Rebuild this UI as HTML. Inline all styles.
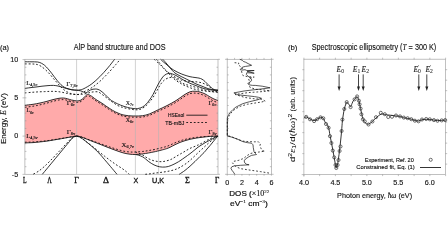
<!DOCTYPE html>
<html><head><meta charset="utf-8"><title>AlP band structure and ellipsometry</title>
<style>
html,body{margin:0;padding:0;background:#fff;}
body{width:448px;height:252px;overflow:hidden;}
svg{display:block;}
text{font-family:"Liberation Sans","DejaVu Sans",sans-serif;fill:#111;stroke:#111;stroke-width:0.2;}
.tl{stroke-width:0.13;}
.tt{stroke-width:0.12;}
.sf{font-family:"Liberation Serif","DejaVu Serif",serif;}
.fr{stroke:#a6a6a6;stroke-width:0.7;fill:none;}
.sy{stroke:#b4b4b4;stroke-width:0.6;fill:none;}
.tk{stroke:#999;stroke-width:0.6;fill:none;}
.sl{stroke:#111;stroke-width:0.85;fill:none;stroke-linejoin:round;}
.dl{stroke:#111;stroke-width:0.9;fill:none;stroke-dasharray:1.8 1.95;}
</style></head><body>
<svg width="448" height="252" viewBox="0 0 448 252">
<rect width="448" height="252" fill="#fff"/>

<text class="tt" x="0" y="49.7" font-size="8.0" textLength="9.1" lengthAdjust="spacingAndGlyphs">(a)</text>
<text class="tt" x="73.8" y="50.1" font-size="8.5" textLength="91.7" lengthAdjust="spacingAndGlyphs">AlP band structure and DOS</text>
<path d="M24.90 105.30 C26.25 105.13 30.48 104.68 33.00 104.30 C35.52 103.92 37.67 103.50 40.00 103.00 C42.33 102.50 44.83 101.87 47.00 101.30 C49.17 100.73 51.00 100.10 53.00 99.60 C55.00 99.10 57.25 98.57 59.00 98.30 C60.75 98.03 62.08 97.92 63.50 98.00 C64.92 98.08 66.17 98.47 67.50 98.80 C68.83 99.13 69.98 99.65 71.50 100.00 C73.02 100.35 75.35 100.78 76.60 100.90 C77.85 101.02 78.27 100.85 79.00 100.70 C79.73 100.55 80.20 100.48 81.00 100.00 C81.80 99.52 83.00 98.53 83.80 97.80 C84.60 97.07 85.18 96.17 85.80 95.60 C86.42 95.03 86.88 94.50 87.50 94.40 C88.12 94.30 88.82 94.70 89.50 95.00 C90.18 95.30 90.80 95.65 91.60 96.20 C92.40 96.75 93.40 97.63 94.30 98.30 C95.20 98.97 96.05 99.58 97.00 100.20 C97.95 100.82 99.00 101.38 100.00 102.00 C101.00 102.62 102.00 103.22 103.00 103.90 C104.00 104.58 104.93 105.37 106.00 106.10 C107.07 106.83 108.32 107.60 109.40 108.30 C110.48 109.00 111.45 109.68 112.50 110.30 C113.55 110.92 114.62 111.47 115.70 112.00 C116.78 112.53 117.93 113.07 119.00 113.50 C120.07 113.93 120.93 114.28 122.10 114.60 C123.27 114.92 124.52 115.18 126.00 115.40 C127.48 115.62 129.43 115.80 131.00 115.90 C132.57 116.00 133.48 116.03 135.40 116.00 C137.32 115.97 140.15 116.05 142.50 115.70 C144.85 115.35 146.82 114.92 149.50 113.90 C152.18 112.88 155.68 110.98 158.60 109.60 C161.52 108.22 164.10 107.10 167.00 105.60 C169.90 104.10 173.17 102.37 176.00 100.60 C178.83 98.83 181.67 96.47 184.00 95.00 C186.33 93.53 188.17 92.43 190.00 91.80 C191.83 91.17 193.33 91.17 195.00 91.20 C196.67 91.23 198.33 91.55 200.00 92.00 C201.67 92.45 203.33 93.08 205.00 93.90 C206.67 94.72 208.50 96.05 210.00 96.90 C211.50 97.75 212.67 98.40 214.00 99.00 C215.33 99.60 217.33 100.25 218.00 100.50 L218.00 136.10 C217.33 136.12 215.33 136.15 214.00 136.20 C212.67 136.25 211.50 136.28 210.00 136.40 C208.50 136.52 206.67 136.72 205.00 136.90 C203.33 137.08 201.67 137.27 200.00 137.50 C198.33 137.73 196.67 138.00 195.00 138.30 C193.33 138.60 191.67 138.90 190.00 139.30 C188.33 139.70 186.67 140.18 185.00 140.70 C183.33 141.22 181.67 141.73 180.00 142.40 C178.33 143.07 176.67 143.88 175.00 144.70 C173.33 145.52 171.42 146.63 170.00 147.30 C168.58 147.97 167.73 148.28 166.50 148.70 C165.27 149.12 164.45 149.32 162.60 149.80 C160.75 150.28 157.78 151.07 155.40 151.60 C153.02 152.13 150.43 152.62 148.30 153.00 C146.17 153.38 144.75 153.65 142.60 153.90 C140.45 154.15 137.50 154.45 135.40 154.50 C133.30 154.55 131.90 154.43 130.00 154.20 C128.10 153.97 126.00 153.60 124.00 153.10 C122.00 152.60 120.00 151.88 118.00 151.20 C116.00 150.52 114.00 149.75 112.00 149.00 C110.00 148.25 108.00 147.48 106.00 146.70 C104.00 145.92 102.17 145.15 100.00 144.30 C97.83 143.45 95.10 142.42 93.00 141.60 C90.90 140.78 89.40 140.18 87.40 139.40 C85.40 138.62 82.80 137.45 81.00 136.90 C79.20 136.35 77.93 136.15 76.60 136.10 C75.27 136.05 74.27 136.40 73.00 136.60 C71.73 136.80 70.50 137.03 69.00 137.30 C67.50 137.57 65.67 137.90 64.00 138.20 C62.33 138.50 60.83 138.78 59.00 139.10 C57.17 139.42 55.00 139.77 53.00 140.10 C51.00 140.43 49.13 140.80 47.00 141.10 C44.87 141.40 42.53 141.65 40.20 141.90 C37.87 142.15 35.55 142.43 33.00 142.60 C30.45 142.77 26.25 142.85 24.90 142.90 Z" fill="#ffaaaa" stroke="none"/>
<line class="sy" x1="76.6" y1="59.3" x2="76.6" y2="174.3"/>
<line class="sy" x1="135.4" y1="59.3" x2="135.4" y2="174.3"/>
<line class="sy" x1="158.6" y1="59.3" x2="158.6" y2="174.3"/>
<rect class="fr" x="24.9" y="59.3" width="193.1" height="115.0"/>
<line class="tk" x1="218.0" y1="59.3" x2="220.0" y2="59.3"/>
<line class="tk" x1="218.0" y1="174.3" x2="220.0" y2="174.3"/>
<line class="tk" x1="22.5" y1="59.60" x2="24.9" y2="59.60"/>
<line class="tk" x1="22.5" y1="97.85" x2="24.9" y2="97.85"/>
<line class="tk" x1="22.5" y1="136.10" x2="24.9" y2="136.10"/>
<line class="tk" x1="22.5" y1="174.35" x2="24.9" y2="174.35"/>
<line class="tk" x1="216.5" y1="166.70" x2="218.0" y2="166.70"/>
<line class="tk" x1="24.9" y1="166.70" x2="26.4" y2="166.70"/>
<line class="tk" x1="216.5" y1="159.05" x2="218.0" y2="159.05"/>
<line class="tk" x1="24.9" y1="159.05" x2="26.4" y2="159.05"/>
<line class="tk" x1="216.5" y1="151.40" x2="218.0" y2="151.40"/>
<line class="tk" x1="24.9" y1="151.40" x2="26.4" y2="151.40"/>
<line class="tk" x1="216.5" y1="143.75" x2="218.0" y2="143.75"/>
<line class="tk" x1="24.9" y1="143.75" x2="26.4" y2="143.75"/>
<line class="tk" x1="216.5" y1="136.10" x2="218.0" y2="136.10"/>
<line class="tk" x1="24.9" y1="136.10" x2="26.4" y2="136.10"/>
<line class="tk" x1="216.5" y1="128.45" x2="218.0" y2="128.45"/>
<line class="tk" x1="24.9" y1="128.45" x2="26.4" y2="128.45"/>
<line class="tk" x1="216.5" y1="120.80" x2="218.0" y2="120.80"/>
<line class="tk" x1="24.9" y1="120.80" x2="26.4" y2="120.80"/>
<line class="tk" x1="216.5" y1="113.15" x2="218.0" y2="113.15"/>
<line class="tk" x1="24.9" y1="113.15" x2="26.4" y2="113.15"/>
<line class="tk" x1="216.5" y1="105.50" x2="218.0" y2="105.50"/>
<line class="tk" x1="24.9" y1="105.50" x2="26.4" y2="105.50"/>
<line class="tk" x1="216.5" y1="97.85" x2="218.0" y2="97.85"/>
<line class="tk" x1="24.9" y1="97.85" x2="26.4" y2="97.85"/>
<line class="tk" x1="216.5" y1="90.20" x2="218.0" y2="90.20"/>
<line class="tk" x1="24.9" y1="90.20" x2="26.4" y2="90.20"/>
<line class="tk" x1="216.5" y1="82.55" x2="218.0" y2="82.55"/>
<line class="tk" x1="24.9" y1="82.55" x2="26.4" y2="82.55"/>
<line class="tk" x1="216.5" y1="74.90" x2="218.0" y2="74.90"/>
<line class="tk" x1="24.9" y1="74.90" x2="26.4" y2="74.90"/>
<line class="tk" x1="216.5" y1="67.25" x2="218.0" y2="67.25"/>
<line class="tk" x1="24.9" y1="67.25" x2="26.4" y2="67.25"/>
<path class="sl" d="M24.90 61.80 C25.92 61.80 28.87 61.77 31.00 61.80 C33.13 61.83 35.95 61.75 37.70 62.00 C39.45 62.25 40.33 62.73 41.50 63.30 C42.67 63.87 43.62 64.48 44.70 65.40 C45.78 66.32 46.83 67.48 48.00 68.80 C49.17 70.12 50.20 71.38 51.70 73.30 C53.20 75.22 55.25 78.22 57.00 80.30 C58.75 82.38 60.58 84.47 62.20 85.80 C63.82 87.13 65.07 87.63 66.70 88.30 C68.33 88.97 70.35 89.48 72.00 89.80 C73.65 90.12 75.27 90.18 76.60 90.20 C77.93 90.22 78.77 90.17 80.00 89.90 C81.23 89.63 82.02 89.62 84.00 88.60 C85.98 87.58 89.27 85.78 91.90 83.80 C94.53 81.82 97.15 79.35 99.80 76.70 C102.45 74.05 105.33 70.80 107.80 67.90 C110.27 65.00 113.47 60.73 114.60 59.30"/>
<path class="sl" d="M24.90 88.40 C25.75 88.28 28.15 87.93 30.00 87.70 C31.85 87.47 34.00 87.25 36.00 87.00 C38.00 86.75 40.00 86.43 42.00 86.20 C44.00 85.97 46.08 85.73 48.00 85.60 C49.92 85.47 51.83 85.33 53.50 85.40 C55.17 85.47 56.55 85.70 58.00 86.00 C59.45 86.30 60.75 86.77 62.20 87.20 C63.65 87.63 65.15 88.18 66.70 88.60 C68.25 89.02 69.85 89.43 71.50 89.70 C73.15 89.97 75.10 90.02 76.60 90.20 C78.10 90.38 79.35 90.50 80.50 90.80 C81.65 91.10 82.58 91.65 83.50 92.00 C84.42 92.35 85.17 93.03 86.00 92.90 C86.83 92.77 87.75 91.68 88.50 91.20 C89.25 90.72 89.75 90.33 90.50 90.00 C91.25 89.67 92.17 89.37 93.00 89.20 C93.83 89.03 94.67 88.97 95.50 89.00 C96.33 89.03 97.08 89.07 98.00 89.40 C98.92 89.73 99.87 90.18 101.00 91.00 C102.13 91.82 103.53 93.12 104.80 94.30 C106.07 95.48 107.50 97.07 108.60 98.10 C109.70 99.13 110.42 99.80 111.40 100.50 C112.38 101.20 113.52 101.77 114.50 102.30 C115.48 102.83 116.30 103.23 117.30 103.70 C118.30 104.17 119.38 104.65 120.50 105.10 C121.62 105.55 122.83 106.02 124.00 106.40 C125.17 106.78 126.38 107.12 127.50 107.40 C128.62 107.68 129.38 107.88 130.70 108.10 C132.02 108.32 134.02 108.67 135.40 108.70 C136.78 108.73 137.82 108.58 139.00 108.30 C140.18 108.02 141.33 107.67 142.50 107.00 C143.67 106.33 144.83 105.47 146.00 104.30 C147.17 103.13 148.33 101.63 149.50 100.00 C150.67 98.37 151.75 96.75 153.00 94.50 C154.25 92.25 155.67 89.00 157.00 86.50 C158.33 84.00 159.75 81.38 161.00 79.50 C162.25 77.62 163.18 76.23 164.50 75.20 C165.82 74.17 167.57 73.50 168.90 73.30 C170.23 73.10 171.32 73.63 172.50 74.00 C173.68 74.37 174.75 74.85 176.00 75.50 C177.25 76.15 178.67 77.10 180.00 77.90 C181.33 78.70 182.33 79.40 184.00 80.30 C185.67 81.20 188.00 82.42 190.00 83.30 C192.00 84.18 193.67 84.72 196.00 85.60 C198.33 86.48 201.33 87.85 204.00 88.60 C206.67 89.35 209.67 89.82 212.00 90.10 C214.33 90.38 217.00 90.27 218.00 90.30"/>
<path class="sl" d="M160.60 59.30 C161.08 59.75 162.43 61.07 163.50 62.00 C164.57 62.93 165.75 63.85 167.00 64.90 C168.25 65.95 169.50 67.22 171.00 68.30 C172.50 69.38 174.50 70.57 176.00 71.40 C177.50 72.23 178.67 72.72 180.00 73.30 C181.33 73.88 182.33 74.33 184.00 74.90 C185.67 75.47 188.17 76.27 190.00 76.70 C191.83 77.13 193.50 77.27 195.00 77.50 C196.50 77.73 197.83 77.82 199.00 78.10 C200.17 78.38 201.00 78.63 202.00 79.20 C203.00 79.77 204.00 80.62 205.00 81.50 C206.00 82.38 207.00 83.52 208.00 84.50 C209.00 85.48 210.00 86.57 211.00 87.40 C212.00 88.23 212.83 89.02 214.00 89.50 C215.17 89.98 217.33 90.17 218.00 90.30"/>
<path class="sl" d="M162.80 59.30 C163.25 59.80 164.63 61.30 165.50 62.30 C166.37 63.30 167.08 64.18 168.00 65.30 C168.92 66.42 170.00 67.85 171.00 69.00 C172.00 70.15 173.17 71.42 174.00 72.20 C174.83 72.98 175.00 73.08 176.00 73.70 C177.00 74.32 178.67 75.20 180.00 75.90 C181.33 76.60 182.33 77.07 184.00 77.90 C185.67 78.73 188.00 79.90 190.00 80.90 C192.00 81.90 194.00 83.02 196.00 83.90 C198.00 84.78 200.00 85.42 202.00 86.20 C204.00 86.98 206.00 87.97 208.00 88.60 C210.00 89.23 212.33 89.72 214.00 90.00 C215.67 90.28 217.33 90.25 218.00 90.30"/>
<path class="sl" d="M76.60 136.10 C76.25 136.20 75.22 136.35 74.50 136.70 C73.78 137.05 73.13 137.40 72.30 138.20 C71.47 139.00 74.50 135.48 69.50 141.50 C64.50 147.52 46.83 168.83 42.30 174.30"/>
<path class="sl" d="M76.60 136.10 C77.08 136.25 78.52 136.55 79.50 137.00 C80.48 137.45 81.18 137.87 82.50 138.80 C83.82 139.73 85.65 141.17 87.40 142.60 C89.15 144.03 91.08 145.67 93.00 147.40 C94.92 149.13 96.98 150.98 98.90 153.00 C100.82 155.02 102.60 157.28 104.50 159.50 C106.40 161.72 108.22 163.83 110.30 166.30 C112.38 168.77 115.88 172.97 117.00 174.30"/>
<path class="sl" d="M135.40 154.50 C135.92 154.62 137.30 154.82 138.50 155.20 C139.70 155.58 141.43 156.18 142.60 156.80 C143.77 157.42 144.55 158.15 145.50 158.90 C146.45 159.65 147.35 160.57 148.30 161.30 C149.25 162.03 150.25 162.70 151.20 163.30 C152.15 163.90 153.03 164.43 154.00 164.90 C154.97 165.37 156.05 165.78 157.00 166.10 C157.95 166.42 158.78 166.63 159.70 166.80 C160.62 166.97 161.55 167.07 162.50 167.10 C163.45 167.13 164.43 167.10 165.40 167.00 C166.37 166.90 167.35 166.75 168.30 166.50 C169.25 166.25 170.15 165.88 171.10 165.50 C172.05 165.12 173.02 164.68 174.00 164.20 C174.98 163.72 176.00 163.17 177.00 162.60 C178.00 162.03 178.67 161.68 180.00 160.80 C181.33 159.92 183.33 158.48 185.00 157.30 C186.67 156.12 188.50 154.83 190.00 153.70 C191.50 152.57 192.67 151.58 194.00 150.50 C195.33 149.42 196.67 148.18 198.00 147.20 C199.33 146.22 200.67 145.43 202.00 144.60 C203.33 143.77 204.67 142.95 206.00 142.20 C207.33 141.45 208.67 140.80 210.00 140.10 C211.33 139.40 212.67 138.67 214.00 138.00 C215.33 137.33 217.33 136.42 218.00 136.10"/>
<path class="sl" d="M179.20 174.30 C179.67 174.00 181.03 173.15 182.00 172.50 C182.97 171.85 183.67 171.45 185.00 170.40 C186.33 169.35 188.33 167.68 190.00 166.20 C191.67 164.72 193.33 163.12 195.00 161.50 C196.67 159.88 198.50 157.98 200.00 156.50 C201.50 155.02 202.83 153.85 204.00 152.60 C205.17 151.35 206.00 150.17 207.00 149.00 C208.00 147.83 209.00 146.78 210.00 145.60 C211.00 144.42 212.08 143.03 213.00 141.90 C213.92 140.77 214.67 139.77 215.50 138.80 C216.33 137.83 217.58 136.55 218.00 136.10"/>
<path class="dl" d="M24.90 63.90 C26.25 63.92 30.90 63.88 33.00 64.00 C35.10 64.12 36.13 64.20 37.50 64.60 C38.87 65.00 39.87 65.53 41.20 66.40 C42.53 67.27 44.03 68.47 45.50 69.80 C46.97 71.13 48.67 72.93 50.00 74.40 C51.33 75.87 52.33 77.23 53.50 78.60 C54.67 79.97 55.83 81.28 57.00 82.60 C58.17 83.92 59.33 85.30 60.50 86.50 C61.67 87.70 62.67 88.78 64.00 89.80 C65.33 90.82 67.08 91.90 68.50 92.60 C69.92 93.30 71.15 93.68 72.50 94.00 C73.85 94.32 75.35 94.48 76.60 94.50 C77.85 94.52 78.77 94.55 80.00 94.10 C81.23 93.65 82.02 92.88 84.00 91.80 C85.98 90.72 89.27 89.33 91.90 87.60 C94.53 85.87 97.15 83.75 99.80 81.40 C102.45 79.05 105.15 76.28 107.80 73.50 C110.45 70.72 113.63 67.07 115.70 64.70 C117.77 62.33 119.45 60.20 120.20 59.30"/>
<path class="dl" d="M24.90 92.90 C26.08 92.80 29.82 92.47 32.00 92.30 C34.18 92.13 35.88 92.02 38.00 91.90 C40.12 91.78 42.70 91.68 44.70 91.60 C46.70 91.52 48.28 91.43 50.00 91.40 C51.72 91.37 53.33 91.32 55.00 91.40 C56.67 91.48 58.33 91.65 60.00 91.90 C61.67 92.15 63.33 92.55 65.00 92.90 C66.67 93.25 68.07 93.73 70.00 94.00 C71.93 94.27 74.68 94.43 76.60 94.50 C78.52 94.57 79.93 94.55 81.50 94.40 C83.07 94.25 84.58 93.92 86.00 93.60 C87.42 93.28 88.78 92.78 90.00 92.50 C91.22 92.22 91.95 92.00 93.30 91.90 C94.65 91.80 96.67 91.50 98.10 91.90 C99.53 92.30 100.63 93.43 101.90 94.30 C103.17 95.17 104.43 96.15 105.70 97.10 C106.97 98.05 108.28 99.10 109.50 100.00 C110.72 100.90 111.70 101.62 113.00 102.50 C114.30 103.38 116.05 104.60 117.30 105.30 C118.55 106.00 119.38 106.28 120.50 106.70 C121.62 107.12 122.30 107.38 124.00 107.80 C125.70 108.22 128.80 108.87 130.70 109.20 C132.60 109.53 133.85 109.77 135.40 109.80 C136.95 109.83 138.38 109.95 140.00 109.40 C141.62 108.85 143.60 107.65 145.10 106.50 C146.60 105.35 147.68 104.00 149.00 102.50 C150.32 101.00 151.67 99.50 153.00 97.50 C154.33 95.50 155.67 92.78 157.00 90.50 C158.33 88.22 159.67 85.62 161.00 83.80 C162.33 81.98 163.58 80.63 165.00 79.60 C166.42 78.57 168.08 77.93 169.50 77.60 C170.92 77.27 172.20 77.23 173.50 77.60 C174.80 77.97 175.55 78.75 177.30 79.80 C179.05 80.85 181.88 82.93 184.00 83.90 C186.12 84.87 187.67 84.92 190.00 85.60 C192.33 86.28 195.33 87.20 198.00 88.00 C200.67 88.80 203.33 89.80 206.00 90.40 C208.67 91.00 212.00 91.33 214.00 91.60 C216.00 91.87 217.33 91.93 218.00 92.00"/>
<path class="dl" d="M154.20 59.30 C154.67 59.72 156.03 60.90 157.00 61.80 C157.97 62.70 158.92 63.63 160.00 64.70 C161.08 65.77 162.33 67.07 163.50 68.20 C164.67 69.33 165.75 70.43 167.00 71.50 C168.25 72.57 169.50 73.58 171.00 74.60 C172.50 75.62 174.50 76.77 176.00 77.60 C177.50 78.43 178.83 79.10 180.00 79.60 C181.17 80.10 181.33 80.30 183.00 80.60 C184.67 80.90 187.83 81.20 190.00 81.40 C192.17 81.60 194.00 81.55 196.00 81.80 C198.00 82.05 200.17 82.33 202.00 82.90 C203.83 83.47 205.50 84.35 207.00 85.20 C208.50 86.05 209.75 87.10 211.00 88.00 C212.25 88.90 213.33 89.88 214.50 90.60 C215.67 91.32 217.42 92.02 218.00 92.30"/>
<path class="dl" d="M156.40 59.30 C157.00 60.02 158.73 62.08 160.00 63.60 C161.27 65.12 162.67 66.87 164.00 68.40 C165.33 69.93 166.67 71.37 168.00 72.80 C169.33 74.23 170.67 75.72 172.00 77.00 C173.33 78.28 174.67 79.50 176.00 80.50 C177.33 81.50 178.67 82.22 180.00 83.00 C181.33 83.78 182.00 84.30 184.00 85.20 C186.00 86.10 189.33 87.55 192.00 88.40 C194.67 89.25 197.00 89.77 200.00 90.30 C203.00 90.83 207.00 91.27 210.00 91.60 C213.00 91.93 216.67 92.18 218.00 92.30"/>
<path class="dl" d="M24.90 107.30 C26.25 107.12 30.48 106.63 33.00 106.22 C35.52 105.81 37.67 105.38 40.00 104.85 C42.33 104.33 44.83 103.67 47.00 103.09 C49.17 102.50 51.00 101.85 53.00 101.33 C55.00 100.81 57.25 100.25 59.00 99.97 C60.75 99.69 62.08 99.56 63.50 99.63 C64.92 99.70 66.17 100.07 67.50 100.39 C68.83 100.71 69.98 101.21 71.50 101.55 C73.02 101.88 75.35 102.29 76.60 102.40 C77.85 102.51 78.27 102.34 79.00 102.19 C79.73 102.03 80.20 101.96 81.00 101.48 C81.80 100.99 83.00 100.00 83.80 99.26 C84.60 98.53 85.18 97.62 85.80 97.05 C86.42 96.48 86.88 95.95 87.50 95.84 C88.12 95.74 88.82 96.14 89.50 96.43 C90.18 96.73 90.80 97.08 91.60 97.62 C92.40 98.17 93.40 99.05 94.30 99.71 C95.20 100.37 96.05 100.98 97.00 101.60 C97.95 102.21 99.00 102.77 100.00 103.38 C101.00 103.99 102.00 104.59 103.00 105.27 C104.00 105.94 104.93 106.72 106.00 107.45 C107.07 108.18 108.32 108.94 109.40 109.63 C110.48 110.33 111.45 111.01 112.50 111.62 C113.55 112.23 114.62 112.77 115.70 113.30 C116.78 113.83 117.93 114.36 119.00 114.78 C120.07 115.21 120.93 115.56 122.10 115.87 C123.27 116.18 124.52 116.44 126.00 116.65 C127.48 116.86 129.43 117.03 131.00 117.12 C132.57 117.21 133.48 117.22 135.40 117.20 C137.32 117.18 140.15 117.31 142.50 116.99 C144.85 116.66 146.82 116.25 149.50 115.27 C152.18 114.29 155.68 112.43 158.60 111.08 C161.52 109.73 164.10 108.65 167.00 107.18 C169.90 105.72 173.17 104.02 176.00 102.29 C178.83 100.56 181.67 98.23 184.00 96.79 C186.33 95.35 188.17 94.27 190.00 93.66 C191.83 93.05 193.33 93.07 195.00 93.12 C196.67 93.18 198.33 93.51 200.00 93.98 C201.67 94.45 203.33 95.11 205.00 95.94 C206.67 96.78 208.50 98.13 210.00 99.00 C211.50 99.87 212.67 100.54 214.00 101.15 C215.33 101.77 217.33 102.44 218.00 102.70"/>
<path class="dl" d="M24.90 142.20 C26.25 142.17 30.45 142.14 33.00 142.01 C35.55 141.88 37.87 141.63 40.20 141.41 C42.53 141.19 44.87 140.97 47.00 140.70 C49.13 140.43 51.00 140.09 53.00 139.78 C55.00 139.47 57.17 139.15 59.00 138.86 C60.83 138.57 62.33 138.31 64.00 138.03 C65.67 137.75 67.50 137.44 69.00 137.20 C70.50 136.95 71.73 136.73 73.00 136.55 C74.27 136.37 75.27 136.06 76.60 136.10 C77.93 136.14 79.20 136.31 81.00 136.81 C82.80 137.32 85.40 138.41 87.40 139.12 C89.40 139.84 90.90 140.39 93.00 141.12 C95.10 141.86 97.83 142.79 100.00 143.55 C102.17 144.31 104.00 144.99 106.00 145.68 C108.00 146.38 110.00 147.05 112.00 147.71 C114.00 148.36 116.00 149.03 118.00 149.62 C120.00 150.20 122.00 150.81 124.00 151.21 C126.00 151.61 128.10 151.86 130.00 151.99 C131.90 152.13 133.30 152.09 135.40 152.00 C137.50 151.91 140.45 151.69 142.60 151.46 C144.75 151.23 146.17 150.98 148.30 150.61 C150.43 150.25 153.02 149.79 155.40 149.27 C157.78 148.76 160.75 148.00 162.60 147.54 C164.45 147.07 165.27 146.88 166.50 146.47 C167.73 146.06 168.58 145.71 170.00 145.10 C171.42 144.49 173.33 143.54 175.00 142.83 C176.67 142.13 178.33 141.42 180.00 140.85 C181.67 140.29 183.33 139.87 185.00 139.45 C186.67 139.02 188.33 138.63 190.00 138.32 C191.67 138.01 193.33 137.79 195.00 137.57 C196.67 137.35 198.33 137.16 200.00 136.99 C201.67 136.83 203.33 136.71 205.00 136.59 C206.67 136.47 208.50 136.32 210.00 136.25 C211.50 136.18 212.67 136.17 214.00 136.15 C215.33 136.12 217.33 136.11 218.00 136.10"/>
<path class="dl" d="M76.60 136.10 C76.08 136.25 74.40 136.60 73.50 137.00 C72.60 137.40 72.45 137.33 71.20 138.50 C69.95 139.67 68.20 141.65 66.00 144.00 C63.80 146.35 60.67 149.77 58.00 152.60 C55.33 155.43 52.33 158.63 50.00 161.00 C47.67 163.37 45.92 165.10 44.00 166.80 C42.08 168.50 40.33 169.95 38.50 171.20 C36.67 172.45 33.92 173.78 33.00 174.30"/>
<path class="dl" d="M76.60 136.10 C77.17 136.32 78.85 136.82 80.00 137.40 C81.15 137.98 82.27 138.73 83.50 139.60 C84.73 140.47 85.82 141.40 87.40 142.60 C88.98 143.80 91.08 145.30 93.00 146.80 C94.92 148.30 96.97 150.03 98.90 151.60 C100.83 153.17 102.70 154.72 104.60 156.20 C106.50 157.68 108.40 159.10 110.30 160.50 C112.20 161.90 114.10 163.32 116.00 164.60 C117.90 165.88 120.12 167.13 121.70 168.20 C123.28 169.27 124.23 169.98 125.50 171.00 C126.77 172.02 128.67 173.75 129.30 174.30"/>
<path class="dl" d="M135.40 152.00 C135.92 152.18 137.30 152.60 138.50 153.10 C139.70 153.60 141.43 154.37 142.60 155.00 C143.77 155.63 144.55 156.30 145.50 156.90 C146.45 157.50 147.22 158.05 148.30 158.60 C149.38 159.15 150.82 159.78 152.00 160.20 C153.18 160.62 154.23 160.87 155.40 161.10 C156.57 161.33 157.80 161.52 159.00 161.60 C160.20 161.68 161.43 161.70 162.60 161.60 C163.77 161.50 164.82 161.28 166.00 161.00 C167.18 160.72 168.70 160.25 169.70 159.90 C170.70 159.55 170.95 159.47 172.00 158.90 C173.05 158.33 174.67 157.28 176.00 156.50 C177.33 155.72 178.50 155.07 180.00 154.20 C181.50 153.33 183.33 152.27 185.00 151.30 C186.67 150.33 188.17 149.30 190.00 148.40 C191.83 147.50 194.33 146.62 196.00 145.90 C197.67 145.18 198.50 144.85 200.00 144.10 C201.50 143.35 203.33 142.28 205.00 141.40 C206.67 140.52 208.50 139.50 210.00 138.80 C211.50 138.10 212.67 137.65 214.00 137.20 C215.33 136.75 217.33 136.28 218.00 136.10"/>
<path class="dl" d="M145.30 174.30 C146.08 174.22 148.38 174.00 150.00 173.80 C151.62 173.60 153.33 173.32 155.00 173.10 C156.67 172.88 158.33 172.72 160.00 172.50 C161.67 172.28 163.33 172.07 165.00 171.80 C166.67 171.53 168.50 171.22 170.00 170.90 C171.50 170.58 172.83 170.25 174.00 169.90 C175.17 169.55 176.00 169.23 177.00 168.80 C178.00 168.37 178.67 168.05 180.00 167.30 C181.33 166.55 183.33 165.45 185.00 164.30 C186.67 163.15 188.33 161.83 190.00 160.40 C191.67 158.97 193.33 157.28 195.00 155.70 C196.67 154.12 198.50 152.30 200.00 150.90 C201.50 149.50 202.67 148.52 204.00 147.30 C205.33 146.08 206.67 144.77 208.00 143.60 C209.33 142.43 210.83 141.23 212.00 140.30 C213.17 139.37 214.00 138.70 215.00 138.00 C216.00 137.30 217.50 136.42 218.00 136.10"/>
<path class="sl" d="M24.90 105.30 C26.25 105.13 30.48 104.68 33.00 104.30 C35.52 103.92 37.67 103.50 40.00 103.00 C42.33 102.50 44.83 101.87 47.00 101.30 C49.17 100.73 51.00 100.10 53.00 99.60 C55.00 99.10 57.25 98.57 59.00 98.30 C60.75 98.03 62.08 97.92 63.50 98.00 C64.92 98.08 66.17 98.47 67.50 98.80 C68.83 99.13 69.98 99.65 71.50 100.00 C73.02 100.35 75.35 100.78 76.60 100.90 C77.85 101.02 78.27 100.85 79.00 100.70 C79.73 100.55 80.20 100.48 81.00 100.00 C81.80 99.52 83.00 98.53 83.80 97.80 C84.60 97.07 85.18 96.17 85.80 95.60 C86.42 95.03 86.88 94.50 87.50 94.40 C88.12 94.30 88.82 94.70 89.50 95.00 C90.18 95.30 90.80 95.65 91.60 96.20 C92.40 96.75 93.40 97.63 94.30 98.30 C95.20 98.97 96.05 99.58 97.00 100.20 C97.95 100.82 99.00 101.38 100.00 102.00 C101.00 102.62 102.00 103.22 103.00 103.90 C104.00 104.58 104.93 105.37 106.00 106.10 C107.07 106.83 108.32 107.60 109.40 108.30 C110.48 109.00 111.45 109.68 112.50 110.30 C113.55 110.92 114.62 111.47 115.70 112.00 C116.78 112.53 117.93 113.07 119.00 113.50 C120.07 113.93 120.93 114.28 122.10 114.60 C123.27 114.92 124.52 115.18 126.00 115.40 C127.48 115.62 129.43 115.80 131.00 115.90 C132.57 116.00 133.48 116.03 135.40 116.00 C137.32 115.97 140.15 116.05 142.50 115.70 C144.85 115.35 146.82 114.92 149.50 113.90 C152.18 112.88 155.68 110.98 158.60 109.60 C161.52 108.22 164.10 107.10 167.00 105.60 C169.90 104.10 173.17 102.37 176.00 100.60 C178.83 98.83 181.67 96.47 184.00 95.00 C186.33 93.53 188.17 92.43 190.00 91.80 C191.83 91.17 193.33 91.17 195.00 91.20 C196.67 91.23 198.33 91.55 200.00 92.00 C201.67 92.45 203.33 93.08 205.00 93.90 C206.67 94.72 208.50 96.05 210.00 96.90 C211.50 97.75 212.67 98.40 214.00 99.00 C215.33 99.60 217.33 100.25 218.00 100.50"/>
<path class="sl" d="M24.90 142.90 C26.25 142.85 30.45 142.77 33.00 142.60 C35.55 142.43 37.87 142.15 40.20 141.90 C42.53 141.65 44.87 141.40 47.00 141.10 C49.13 140.80 51.00 140.43 53.00 140.10 C55.00 139.77 57.17 139.42 59.00 139.10 C60.83 138.78 62.33 138.50 64.00 138.20 C65.67 137.90 67.50 137.57 69.00 137.30 C70.50 137.03 71.73 136.80 73.00 136.60 C74.27 136.40 75.27 136.05 76.60 136.10 C77.93 136.15 79.20 136.35 81.00 136.90 C82.80 137.45 85.40 138.62 87.40 139.40 C89.40 140.18 90.90 140.78 93.00 141.60 C95.10 142.42 97.83 143.45 100.00 144.30 C102.17 145.15 104.00 145.92 106.00 146.70 C108.00 147.48 110.00 148.25 112.00 149.00 C114.00 149.75 116.00 150.52 118.00 151.20 C120.00 151.88 122.00 152.60 124.00 153.10 C126.00 153.60 128.10 153.97 130.00 154.20 C131.90 154.43 133.30 154.55 135.40 154.50 C137.50 154.45 140.45 154.15 142.60 153.90 C144.75 153.65 146.17 153.38 148.30 153.00 C150.43 152.62 153.02 152.13 155.40 151.60 C157.78 151.07 160.75 150.28 162.60 149.80 C164.45 149.32 165.27 149.12 166.50 148.70 C167.73 148.28 168.58 147.97 170.00 147.30 C171.42 146.63 173.33 145.52 175.00 144.70 C176.67 143.88 178.33 143.07 180.00 142.40 C181.67 141.73 183.33 141.22 185.00 140.70 C186.67 140.18 188.33 139.70 190.00 139.30 C191.67 138.90 193.33 138.60 195.00 138.30 C196.67 138.00 198.33 137.73 200.00 137.50 C201.67 137.27 203.33 137.08 205.00 136.90 C206.67 136.72 208.50 136.52 210.00 136.40 C211.50 136.28 212.67 136.25 214.00 136.20 C215.33 136.15 217.33 136.12 218.00 136.10"/>
<text class="tl" x="18.2" y="61.90" font-size="7.2" text-anchor="end">10</text>
<text class="tl" x="18.2" y="100.15" font-size="7.2" text-anchor="end">5</text>
<text class="tl" x="18.2" y="138.40" font-size="7.2" text-anchor="end">0</text>
<text class="tl" x="18.2" y="176.65" font-size="7.2" text-anchor="end">-5</text>
<text class="tl" transform="translate(6.0,144.0) rotate(-90)" font-size="7.5" textLength="51" lengthAdjust="spacingAndGlyphs">Energy, <tspan class="sf" font-style="italic">E</tspan> (eV)</text>
<text x="23.1" y="182.9" font-size="7.8" textLength="3.6" lengthAdjust="spacingAndGlyphs" style="stroke-width:0.3" class="sf">L</text>
<text x="47.2" y="182.9" font-size="7.8" textLength="4.5" lengthAdjust="spacingAndGlyphs" style="stroke-width:0.3" class="sf">Λ</text>
<text x="74.3" y="182.9" font-size="7.8" textLength="4.6" lengthAdjust="spacingAndGlyphs" style="stroke-width:0.3" class="sf">Γ</text>
<text x="103.1" y="182.9" font-size="7.8" textLength="6.0" lengthAdjust="spacingAndGlyphs" style="stroke-width:0.3" class="sf">Δ</text>
<text x="133.6" y="182.9" font-size="7.2" textLength="4.7" lengthAdjust="spacingAndGlyphs" style="stroke-width:0.3">X</text>
<text x="152.0" y="182.9" font-size="7.2" textLength="12.1" lengthAdjust="spacingAndGlyphs" style="stroke-width:0.3">U,K</text>
<text x="185.1" y="182.9" font-size="7.8" textLength="4.8" lengthAdjust="spacingAndGlyphs" style="stroke-width:0.3" class="sf">Σ</text>
<text x="215.1" y="182.9" font-size="7.8" textLength="4.3" lengthAdjust="spacingAndGlyphs" style="stroke-width:0.3" class="sf">Γ</text>
<text class="sf" x="26.2" y="84.7" font-size="6.6" textLength="11.1" lengthAdjust="spacingAndGlyphs" style="stroke:#111;stroke-width:0.15">L<tspan font-size="4.2" dy="1.1">4,5c</tspan></text>
<text class="sf" x="66.3" y="86.2" font-size="6.6" textLength="11.4" lengthAdjust="spacingAndGlyphs" style="stroke:#111;stroke-width:0.15">Γ<tspan font-size="4.2" dy="1.1">7,8c</tspan></text>
<text class="sf" x="26.5" y="112.4" font-size="6.6" textLength="7.3" lengthAdjust="spacingAndGlyphs" style="stroke:#111;stroke-width:0.15">L<tspan font-size="4.2" dy="1.1">6c</tspan></text>
<text class="sf" x="66.8" y="104.9" font-size="6.6" textLength="7.9" lengthAdjust="spacingAndGlyphs" style="stroke:#111;stroke-width:0.15">Γ<tspan font-size="4.2" dy="1.1">6c</tspan></text>
<text class="sf" x="26.2" y="137.8" font-size="6.6" textLength="11.5" lengthAdjust="spacingAndGlyphs" style="stroke:#111;stroke-width:0.15">L<tspan font-size="4.2" dy="1.1">4,5v</tspan></text>
<text class="sf" x="66.7" y="133.8" font-size="6.6" textLength="8.5" lengthAdjust="spacingAndGlyphs" style="stroke:#111;stroke-width:0.15">Γ<tspan font-size="4.2" dy="1.1">8v</tspan></text>
<text class="sf" x="125.7" y="104.9" font-size="6.6" textLength="7.8" lengthAdjust="spacingAndGlyphs" style="stroke:#111;stroke-width:0.15">X<tspan font-size="4.2" dy="1.1">7c</tspan></text>
<text class="sf" x="125.7" y="122.2" font-size="6.6" textLength="7.8" lengthAdjust="spacingAndGlyphs" style="stroke:#111;stroke-width:0.15">X<tspan font-size="4.2" dy="1.1">6c</tspan></text>
<text class="sf" x="121.6" y="147.2" font-size="6.6" textLength="12.4" lengthAdjust="spacingAndGlyphs" style="stroke:#111;stroke-width:0.15">X<tspan font-size="4.2" dy="1.1">6,7v</tspan></text>
<text class="sf" x="208.6" y="104.9" font-size="6.6" textLength="7.6" lengthAdjust="spacingAndGlyphs" style="stroke:#111;stroke-width:0.15">Γ<tspan font-size="4.2" dy="1.1">6c</tspan></text>
<text class="sf" x="208.6" y="133.8" font-size="6.6" textLength="8.0" lengthAdjust="spacingAndGlyphs" style="stroke:#111;stroke-width:0.15">Γ<tspan font-size="4.2" dy="1.1">8v</tspan></text>
<text class="tl" x="168.1" y="116.9" font-size="5.5" textLength="16.2" lengthAdjust="spacingAndGlyphs">HSEsol</text>
<text class="tl" x="165.3" y="124.5" font-size="5.5" textLength="19.0" lengthAdjust="spacingAndGlyphs">TB-mBJ</text>
<line class="sl" x1="186.3" y1="115.2" x2="207.5" y2="115.2"/>
<line class="dl" x1="186.3" y1="122.5" x2="207.5" y2="122.5"/>
<rect class="fr" x="227.2" y="59.3" width="44.2" height="115.0"/>
<line class="tk" x1="225.0" y1="59.3" x2="227.2" y2="59.3"/>
<line class="tk" x1="225.0" y1="174.3" x2="227.2" y2="174.3"/>
<line class="tk" x1="271.4" y1="59.3" x2="273.6" y2="59.3"/>
<line class="tk" x1="271.4" y1="174.3" x2="273.6" y2="174.3"/>
<line class="tk" x1="227.20" y1="57.9" x2="227.20" y2="59.6"/>
<line class="tk" x1="227.20" y1="175.7" x2="227.20" y2="174.0"/>
<line class="tk" x1="234.57" y1="57.9" x2="234.57" y2="59.6"/>
<line class="tk" x1="234.57" y1="175.7" x2="234.57" y2="174.0"/>
<line class="tk" x1="241.93" y1="57.9" x2="241.93" y2="59.6"/>
<line class="tk" x1="241.93" y1="175.7" x2="241.93" y2="174.0"/>
<line class="tk" x1="249.30" y1="57.9" x2="249.30" y2="59.6"/>
<line class="tk" x1="249.30" y1="175.7" x2="249.30" y2="174.0"/>
<line class="tk" x1="256.67" y1="57.9" x2="256.67" y2="59.6"/>
<line class="tk" x1="256.67" y1="175.7" x2="256.67" y2="174.0"/>
<line class="tk" x1="264.03" y1="57.9" x2="264.03" y2="59.6"/>
<line class="tk" x1="264.03" y1="175.7" x2="264.03" y2="174.0"/>
<line class="tk" x1="271.40" y1="57.9" x2="271.40" y2="59.6"/>
<line class="tk" x1="271.40" y1="175.7" x2="271.40" y2="174.0"/>
<line class="tk" x1="227.2" y1="166.70" x2="228.7" y2="166.70"/>
<line class="tk" x1="269.9" y1="166.70" x2="271.4" y2="166.70"/>
<line class="tk" x1="227.2" y1="159.05" x2="228.7" y2="159.05"/>
<line class="tk" x1="269.9" y1="159.05" x2="271.4" y2="159.05"/>
<line class="tk" x1="227.2" y1="151.40" x2="228.7" y2="151.40"/>
<line class="tk" x1="269.9" y1="151.40" x2="271.4" y2="151.40"/>
<line class="tk" x1="227.2" y1="143.75" x2="228.7" y2="143.75"/>
<line class="tk" x1="269.9" y1="143.75" x2="271.4" y2="143.75"/>
<line class="tk" x1="227.2" y1="136.10" x2="228.7" y2="136.10"/>
<line class="tk" x1="269.9" y1="136.10" x2="271.4" y2="136.10"/>
<line class="tk" x1="227.2" y1="128.45" x2="228.7" y2="128.45"/>
<line class="tk" x1="269.9" y1="128.45" x2="271.4" y2="128.45"/>
<line class="tk" x1="227.2" y1="120.80" x2="228.7" y2="120.80"/>
<line class="tk" x1="269.9" y1="120.80" x2="271.4" y2="120.80"/>
<line class="tk" x1="227.2" y1="113.15" x2="228.7" y2="113.15"/>
<line class="tk" x1="269.9" y1="113.15" x2="271.4" y2="113.15"/>
<line class="tk" x1="227.2" y1="105.50" x2="228.7" y2="105.50"/>
<line class="tk" x1="269.9" y1="105.50" x2="271.4" y2="105.50"/>
<line class="tk" x1="227.2" y1="97.85" x2="228.7" y2="97.85"/>
<line class="tk" x1="269.9" y1="97.85" x2="271.4" y2="97.85"/>
<line class="tk" x1="227.2" y1="90.20" x2="228.7" y2="90.20"/>
<line class="tk" x1="269.9" y1="90.20" x2="271.4" y2="90.20"/>
<line class="tk" x1="227.2" y1="82.55" x2="228.7" y2="82.55"/>
<line class="tk" x1="269.9" y1="82.55" x2="271.4" y2="82.55"/>
<line class="tk" x1="227.2" y1="74.90" x2="228.7" y2="74.90"/>
<line class="tk" x1="269.9" y1="74.90" x2="271.4" y2="74.90"/>
<line class="tk" x1="227.2" y1="67.25" x2="228.7" y2="67.25"/>
<line class="tk" x1="269.9" y1="67.25" x2="271.4" y2="67.25"/>
<path class="sl" style="stroke-width:0.7" d="M239.80 59.30 L242.00 60.10 L243.30 61.40 L245.50 62.20 L248.10 63.60 L251.60 65.30 L249.00 65.90 L245.50 66.40 L242.90 67.00 L241.10 68.40 L240.20 69.70 L242.00 70.10 L245.00 69.70 L246.80 70.50 L254.20 70.50 L247.20 71.40 L254.20 73.20 L246.80 72.70 L246.40 74.50 L247.70 75.80 L249.10 77.10 L250.90 78.40 L251.70 80.10 L250.40 81.90 L248.70 82.70 L247.80 83.60 L249.50 84.90 L252.60 85.40 L255.20 85.40 L262.20 86.20 L270.10 87.80 L262.00 88.90 L252.00 90.00 L244.00 91.00 L233.90 92.90 L237.80 94.80 L247.60 95.80 L254.50 96.60 L258.50 97.30 L261.40 98.30 L257.50 99.80 L249.60 101.70 L242.70 103.70 L235.90 107.10 L233.00 109.50 L230.50 112.00 L228.80 114.50 L227.60 116.60 L227.30 118.50 L227.30 136.00 L232.00 137.20 L237.80 139.30 L242.70 141.60 L247.60 142.70 L251.50 143.20 L253.00 144.80 L253.30 147.70 L254.00 151.60 L255.50 153.50 L256.50 154.50 L251.50 155.40 L248.60 156.90 L245.60 158.90 L244.20 160.80 L244.70 162.80 L246.60 164.30 L249.10 164.80 L240.70 165.30 L234.80 165.80 L231.90 166.70 L230.90 168.20 L231.90 170.20 L233.40 172.10 L234.80 174.30"/>
<path class="dl" style="stroke-width:0.8" d="M234.60 62.70 L238.90 63.10 L238.00 64.90 L239.40 65.70 L242.40 67.90 L241.50 70.50 L242.00 73.60 L243.30 75.80 L248.10 76.70 L254.20 77.10 L248.50 78.50 L249.50 81.50 L249.00 84.50 L250.00 87.50 L256.10 89.30 L262.20 89.80 L270.10 90.80 L260.00 91.80 L248.00 92.60 L235.20 94.50 L245.00 97.50 L254.50 98.80 L262.00 99.20 L265.30 101.20 L260.40 102.20 L247.60 104.20 L240.80 106.10 L235.50 108.80 L232.00 111.80 L229.30 115.50 L227.60 119.50 L227.30 122.00 L227.30 135.50 L231.90 136.90 L237.80 139.30 L242.70 141.10 L248.00 141.60 L254.50 141.80 L258.40 141.80 L260.40 143.80 L259.90 145.80 L260.90 148.20 L262.30 150.70 L264.80 151.20 L258.40 152.10 L254.50 152.50 L250.60 153.50 L246.60 155.90 L243.70 158.40 L238.80 160.30 L233.90 161.30 L232.40 162.80 L235.80 166.70 L240.70 168.70 L250.60 170.20 L260.40 171.60 L269.20 173.10"/>
<text class="tl" x="227.20" y="185.4" font-size="7.2" text-anchor="middle">0</text>
<text class="tl" x="241.93" y="185.4" font-size="7.2" text-anchor="middle">2</text>
<text class="tl" x="256.67" y="185.4" font-size="7.2" text-anchor="middle">4</text>
<text class="tl" x="271.40" y="185.4" font-size="7.2" text-anchor="middle">6</text>
<text x="229.3" y="195.7" font-size="7.4" textLength="40.0" lengthAdjust="spacingAndGlyphs">DOS (<tspan class="sf" style="stroke-width:0.1">×10</tspan><tspan class="sf" font-size="4.6" dy="-3.0" style="stroke-width:0.08">22</tspan></text>
<text x="230.0" y="206.1" font-size="7.4" textLength="37.9" lengthAdjust="spacingAndGlyphs">eV<tspan class="sf" font-size="4.6" dy="-3.0" style="stroke-width:0.08">−1</tspan><tspan dy="3.0"> cm</tspan><tspan class="sf" font-size="4.6" dy="-3.0" style="stroke-width:0.08">−3</tspan><tspan dy="3.0">)</tspan></text>
<text class="tt" x="287.9" y="49.9" font-size="8.0" textLength="9.5" lengthAdjust="spacingAndGlyphs">(b)</text>
<text class="tt" x="311.7" y="50.4" font-size="8.5" textLength="124.6" lengthAdjust="spacingAndGlyphs">Spectroscopic ellipsometry (<tspan class="sf" font-style="italic">T</tspan> = 300 K)</text>
<rect class="fr" x="303.9" y="59.2" width="141.7" height="115.4"/>
<line class="tk" x1="303.90" y1="57.7" x2="303.90" y2="59.5"/>
<line class="tk" x1="303.90" y1="176.1" x2="303.90" y2="174.3"/>
<line class="tk" x1="319.64" y1="57.7" x2="319.64" y2="59.5"/>
<line class="tk" x1="319.64" y1="176.1" x2="319.64" y2="174.3"/>
<line class="tk" x1="335.39" y1="57.7" x2="335.39" y2="59.5"/>
<line class="tk" x1="335.39" y1="176.1" x2="335.39" y2="174.3"/>
<line class="tk" x1="351.13" y1="57.7" x2="351.13" y2="59.5"/>
<line class="tk" x1="351.13" y1="176.1" x2="351.13" y2="174.3"/>
<line class="tk" x1="366.88" y1="57.7" x2="366.88" y2="59.5"/>
<line class="tk" x1="366.88" y1="176.1" x2="366.88" y2="174.3"/>
<line class="tk" x1="382.62" y1="57.7" x2="382.62" y2="59.5"/>
<line class="tk" x1="382.62" y1="176.1" x2="382.62" y2="174.3"/>
<line class="tk" x1="398.37" y1="57.7" x2="398.37" y2="59.5"/>
<line class="tk" x1="398.37" y1="176.1" x2="398.37" y2="174.3"/>
<line class="tk" x1="414.11" y1="57.7" x2="414.11" y2="59.5"/>
<line class="tk" x1="414.11" y1="176.1" x2="414.11" y2="174.3"/>
<line class="tk" x1="429.86" y1="57.7" x2="429.86" y2="59.5"/>
<line class="tk" x1="429.86" y1="176.1" x2="429.86" y2="174.3"/>
<line class="tk" x1="445.60" y1="57.7" x2="445.60" y2="59.5"/>
<line class="tk" x1="445.60" y1="176.1" x2="445.60" y2="174.3"/>
<line class="tk" x1="301.7" y1="174.6" x2="303.9" y2="174.6"/>
<line class="tk" x1="303.9" y1="174.6" x2="303.9" y2="176.6"/>
<line class="tk" x1="302.3" y1="69.69" x2="304.2" y2="69.69"/>
<line class="tk" x1="445.3" y1="69.69" x2="447.2" y2="69.69"/>
<line class="tk" x1="302.3" y1="80.18" x2="304.2" y2="80.18"/>
<line class="tk" x1="445.3" y1="80.18" x2="447.2" y2="80.18"/>
<line class="tk" x1="302.3" y1="90.67" x2="304.2" y2="90.67"/>
<line class="tk" x1="445.3" y1="90.67" x2="447.2" y2="90.67"/>
<line class="tk" x1="302.3" y1="101.16" x2="304.2" y2="101.16"/>
<line class="tk" x1="445.3" y1="101.16" x2="447.2" y2="101.16"/>
<line class="tk" x1="302.3" y1="111.65" x2="304.2" y2="111.65"/>
<line class="tk" x1="445.3" y1="111.65" x2="447.2" y2="111.65"/>
<line class="tk" x1="302.3" y1="122.15" x2="304.2" y2="122.15"/>
<line class="tk" x1="445.3" y1="122.15" x2="447.2" y2="122.15"/>
<line class="tk" x1="302.3" y1="132.64" x2="304.2" y2="132.64"/>
<line class="tk" x1="445.3" y1="132.64" x2="447.2" y2="132.64"/>
<line class="tk" x1="302.3" y1="143.13" x2="304.2" y2="143.13"/>
<line class="tk" x1="445.3" y1="143.13" x2="447.2" y2="143.13"/>
<line class="tk" x1="302.3" y1="153.62" x2="304.2" y2="153.62"/>
<line class="tk" x1="445.3" y1="153.62" x2="447.2" y2="153.62"/>
<line class="tk" x1="302.3" y1="164.11" x2="304.2" y2="164.11"/>
<line class="tk" x1="445.3" y1="164.11" x2="447.2" y2="164.11"/>
<text class="tl" x="303.90" y="185.3" font-size="7.2" text-anchor="middle">4.0</text>
<text class="tl" x="335.39" y="185.3" font-size="7.2" text-anchor="middle">4.5</text>
<text class="tl" x="366.88" y="185.3" font-size="7.2" text-anchor="middle">5.0</text>
<text class="tl" x="398.37" y="185.3" font-size="7.2" text-anchor="middle">5.5</text>
<text class="tl" x="429.86" y="185.3" font-size="7.2" text-anchor="middle">6.0</text>
<text class="tl" x="337.1" y="198.1" font-size="8.0" textLength="75.0" lengthAdjust="spacingAndGlyphs">Photon energy, <tspan class="sf" font-style="italic">ħω</tspan> (eV)</text>
<text transform="translate(294.6,162.3) rotate(-90)" font-size="7.6" textLength="48.8" lengthAdjust="spacingAndGlyphs" style="stroke-width:0.05">d<tspan font-size="5.2" dy="-2.7">2</tspan><tspan class="sf" font-style="italic" dy="2.7">ε</tspan><tspan font-size="5.2" dy="1.4">1</tspan><tspan dy="-1.4">/d(</tspan><tspan class="sf" font-style="italic">ħω</tspan>)<tspan font-size="5.2" dy="-2.7">2</tspan></text>
<text transform="translate(294.6,111.5) rotate(-90)" font-size="6.9" textLength="34.3" lengthAdjust="spacingAndGlyphs" style="stroke-width:0.05">(arb. units)</text>
<path class="sl" style="stroke-width:0.85" d="M303.90 118.30 C304.28 118.07 305.18 116.78 306.20 116.90 C307.22 117.02 308.68 118.38 310.00 119.00 C311.32 119.62 312.92 120.57 314.10 120.60 C315.28 120.63 316.03 119.75 317.10 119.20 C318.17 118.65 319.47 117.45 320.50 117.30 C321.53 117.15 322.52 117.47 323.30 118.30 C324.08 119.13 324.35 120.85 325.20 122.30 C326.05 123.75 327.60 124.80 328.40 127.00 C329.20 129.20 329.47 132.75 330.00 135.50 C330.53 138.25 331.07 140.75 331.60 143.50 C332.13 146.25 332.67 149.08 333.20 152.00 C333.73 154.92 334.33 158.37 334.80 161.00 C335.27 163.63 335.57 167.13 336.00 167.80 C336.43 168.47 337.00 166.47 337.40 165.00 C337.80 163.53 338.03 161.50 338.40 159.00 C338.77 156.50 339.23 153.00 339.60 150.00 C339.97 147.00 340.27 144.17 340.60 141.00 C340.93 137.83 341.30 134.33 341.60 131.00 C341.90 127.67 342.10 123.83 342.40 121.00 C342.70 118.17 343.08 116.00 343.40 114.00 C343.72 112.00 343.95 110.50 344.30 109.00 C344.65 107.50 345.10 106.15 345.50 105.00 C345.90 103.85 346.18 102.27 346.70 102.10 C347.22 101.93 347.95 103.25 348.60 104.00 C349.25 104.75 350.03 106.67 350.60 106.60 C351.17 106.53 351.58 104.52 352.00 103.60 C352.42 102.68 352.67 101.82 353.10 101.10 C353.53 100.38 353.93 100.05 354.60 99.30 C355.27 98.55 356.38 96.37 357.10 96.60 C357.82 96.83 358.48 99.42 358.90 100.70 C359.32 101.98 359.32 102.98 359.60 104.30 C359.88 105.62 360.27 107.05 360.60 108.60 C360.93 110.15 361.22 111.93 361.60 113.60 C361.98 115.27 362.47 117.27 362.90 118.60 C363.33 119.93 363.68 120.80 364.20 121.60 C364.72 122.40 365.32 122.97 366.00 123.40 C366.68 123.83 367.32 124.45 368.30 124.20 C369.28 123.95 370.70 122.88 371.90 121.90 C373.10 120.92 374.40 119.32 375.50 118.30 C376.60 117.28 377.50 116.52 378.50 115.80 C379.50 115.08 380.45 114.23 381.50 114.00 C382.55 113.77 383.62 114.23 384.80 114.40 C385.98 114.57 386.78 114.75 388.60 115.00 C390.42 115.25 393.72 115.65 395.70 115.90 C397.68 116.15 399.18 116.20 400.50 116.50 C401.82 116.80 402.50 117.40 403.60 117.70 C404.70 118.00 405.82 118.05 407.10 118.30 C408.38 118.55 410.00 118.83 411.30 119.20 C412.60 119.57 413.70 120.20 414.90 120.50 C416.10 120.80 417.32 121.13 418.50 121.00 C419.68 120.87 420.72 119.98 422.00 119.70 C423.28 119.42 424.90 119.33 426.20 119.30 C427.50 119.27 428.52 119.37 429.80 119.50 C431.08 119.63 432.62 119.92 433.90 120.10 C435.18 120.28 436.20 120.55 437.50 120.60 C438.80 120.65 440.35 120.48 441.70 120.40 C443.05 120.32 444.95 120.15 445.60 120.10"/>
<circle cx="306.20" cy="116.90" r="1.55" fill="none" stroke="#222" stroke-width="0.65"/>
<circle cx="310.00" cy="119.30" r="1.55" fill="none" stroke="#222" stroke-width="0.65"/>
<circle cx="314.10" cy="121.10" r="1.55" fill="none" stroke="#222" stroke-width="0.65"/>
<circle cx="317.10" cy="119.20" r="1.55" fill="none" stroke="#222" stroke-width="0.65"/>
<circle cx="320.50" cy="117.30" r="1.55" fill="none" stroke="#222" stroke-width="0.65"/>
<circle cx="323.30" cy="118.30" r="1.55" fill="none" stroke="#222" stroke-width="0.65"/>
<circle cx="326.00" cy="124.00" r="1.55" fill="none" stroke="#222" stroke-width="0.65"/>
<circle cx="328.60" cy="127.80" r="1.55" fill="none" stroke="#222" stroke-width="0.65"/>
<circle cx="330.00" cy="136.20" r="1.55" fill="none" stroke="#222" stroke-width="0.65"/>
<circle cx="331.40" cy="143.00" r="1.55" fill="none" stroke="#222" stroke-width="0.65"/>
<circle cx="332.80" cy="150.60" r="1.55" fill="none" stroke="#222" stroke-width="0.65"/>
<circle cx="334.20" cy="157.40" r="1.55" fill="none" stroke="#222" stroke-width="0.65"/>
<circle cx="335.50" cy="165.00" r="1.55" fill="none" stroke="#222" stroke-width="0.65"/>
<circle cx="336.30" cy="168.00" r="1.55" fill="none" stroke="#222" stroke-width="0.65"/>
<circle cx="337.60" cy="165.00" r="1.55" fill="none" stroke="#222" stroke-width="0.65"/>
<circle cx="338.50" cy="160.00" r="1.55" fill="none" stroke="#222" stroke-width="0.65"/>
<circle cx="339.60" cy="151.00" r="1.55" fill="none" stroke="#222" stroke-width="0.65"/>
<circle cx="340.50" cy="146.50" r="1.55" fill="none" stroke="#222" stroke-width="0.65"/>
<circle cx="341.60" cy="131.00" r="1.55" fill="none" stroke="#222" stroke-width="0.65"/>
<circle cx="342.40" cy="119.60" r="1.55" fill="none" stroke="#222" stroke-width="0.65"/>
<circle cx="344.30" cy="109.00" r="1.55" fill="none" stroke="#222" stroke-width="0.65"/>
<circle cx="346.70" cy="102.10" r="1.55" fill="none" stroke="#222" stroke-width="0.65"/>
<circle cx="350.60" cy="107.10" r="1.55" fill="none" stroke="#222" stroke-width="0.65"/>
<circle cx="354.60" cy="99.30" r="1.55" fill="none" stroke="#222" stroke-width="0.65"/>
<circle cx="357.10" cy="96.40" r="1.55" fill="none" stroke="#222" stroke-width="0.65"/>
<circle cx="358.90" cy="100.70" r="1.55" fill="none" stroke="#222" stroke-width="0.65"/>
<circle cx="359.60" cy="104.30" r="1.55" fill="none" stroke="#222" stroke-width="0.65"/>
<circle cx="360.60" cy="108.60" r="1.55" fill="none" stroke="#222" stroke-width="0.65"/>
<circle cx="361.40" cy="114.30" r="1.55" fill="none" stroke="#222" stroke-width="0.65"/>
<circle cx="362.90" cy="119.30" r="1.55" fill="none" stroke="#222" stroke-width="0.65"/>
<circle cx="364.80" cy="121.40" r="1.55" fill="none" stroke="#222" stroke-width="0.65"/>
<circle cx="368.50" cy="124.50" r="1.55" fill="none" stroke="#222" stroke-width="0.65"/>
<circle cx="372.40" cy="121.50" r="1.55" fill="none" stroke="#222" stroke-width="0.65"/>
<circle cx="376.00" cy="117.20" r="1.55" fill="none" stroke="#222" stroke-width="0.65"/>
<circle cx="380.80" cy="112.80" r="1.55" fill="none" stroke="#222" stroke-width="0.65"/>
<circle cx="384.80" cy="114.20" r="1.55" fill="none" stroke="#222" stroke-width="0.65"/>
<circle cx="388.20" cy="117.00" r="1.55" fill="none" stroke="#222" stroke-width="0.65"/>
<circle cx="392.00" cy="116.80" r="1.55" fill="none" stroke="#222" stroke-width="0.65"/>
<circle cx="396.00" cy="115.50" r="1.55" fill="none" stroke="#222" stroke-width="0.65"/>
<circle cx="400.00" cy="116.40" r="1.55" fill="none" stroke="#222" stroke-width="0.65"/>
<circle cx="403.80" cy="117.60" r="1.55" fill="none" stroke="#222" stroke-width="0.65"/>
<circle cx="407.60" cy="118.20" r="1.55" fill="none" stroke="#222" stroke-width="0.65"/>
<circle cx="411.30" cy="119.20" r="1.55" fill="none" stroke="#222" stroke-width="0.65"/>
<circle cx="414.90" cy="120.70" r="1.55" fill="none" stroke="#222" stroke-width="0.65"/>
<circle cx="418.50" cy="121.30" r="1.55" fill="none" stroke="#222" stroke-width="0.65"/>
<circle cx="422.00" cy="119.50" r="1.55" fill="none" stroke="#222" stroke-width="0.65"/>
<circle cx="426.20" cy="119.00" r="1.55" fill="none" stroke="#222" stroke-width="0.65"/>
<circle cx="429.80" cy="119.30" r="1.55" fill="none" stroke="#222" stroke-width="0.65"/>
<circle cx="433.90" cy="120.10" r="1.55" fill="none" stroke="#222" stroke-width="0.65"/>
<circle cx="437.50" cy="120.80" r="1.55" fill="none" stroke="#222" stroke-width="0.65"/>
<circle cx="441.70" cy="120.40" r="1.55" fill="none" stroke="#222" stroke-width="0.65"/>
<circle cx="445.20" cy="120.10" r="1.55" fill="none" stroke="#222" stroke-width="0.65"/>
<line x1="339.1" y1="74.4" x2="339.1" y2="87.5" stroke="#3a3a3a" stroke-width="0.95"/>
<path d="M337.60 86.4 L340.60 86.4 L339.10 90.9 Z" fill="#222"/>
<line x1="358.5" y1="74.4" x2="358.5" y2="87.5" stroke="#3a3a3a" stroke-width="0.95"/>
<path d="M357.00 86.4 L360.00 86.4 L358.50 90.9 Z" fill="#222"/>
<line x1="363.2" y1="74.4" x2="363.2" y2="87.5" stroke="#3a3a3a" stroke-width="0.95"/>
<path d="M361.70 86.4 L364.70 86.4 L363.20 90.9 Z" fill="#222"/>
<line x1="418.8" y1="74.4" x2="418.8" y2="87.5" stroke="#3a3a3a" stroke-width="0.95"/>
<path d="M417.30 86.4 L420.30 86.4 L418.80 90.9 Z" fill="#222"/>
<line x1="426.8" y1="74.4" x2="426.8" y2="87.5" stroke="#3a3a3a" stroke-width="0.95"/>
<path d="M425.30 86.4 L428.30 86.4 L426.80 90.9 Z" fill="#222"/>
<text class="sf" x="336.6" y="71.8" font-size="7.6" font-style="italic" style="stroke:#222;stroke-width:0.1">E<tspan font-style="normal" font-size="5.6" dy="1.4" style="stroke-width:0.05">0</tspan></text>
<text class="sf" x="352.8" y="71.8" font-size="7.6" font-style="italic" style="stroke:#222;stroke-width:0.1">E<tspan font-style="normal" font-size="5.6" dy="1.4" style="stroke-width:0.05">1</tspan></text>
<text class="sf" x="361.6" y="71.8" font-size="7.6" font-style="italic" style="stroke:#222;stroke-width:0.1">E<tspan font-style="normal" font-size="5.6" dy="1.4" style="stroke-width:0.05">2</tspan></text>
<text class="sf" x="413.4" y="71.8" font-size="7.6" font-style="italic" style="stroke:#222;stroke-width:0.1">E<tspan font-style="normal" font-size="5.6" dy="1.4" style="stroke-width:0.05">0</tspan></text><text x="418.0" y="69.0" font-size="5.2" style="font-family:'DejaVu Sans',sans-serif;stroke-width:0.1">′</text>
<text class="sf" x="425.4" y="71.8" font-size="7.6" font-style="italic" style="stroke:#222;stroke-width:0.1">E<tspan font-style="normal" font-size="5.6" dy="1.4" style="stroke-width:0.05">2</tspan></text><text x="430.0" y="69.0" font-size="5.2" style="font-family:'DejaVu Sans',sans-serif;stroke-width:0.1">′</text>
<text class="tl" x="364.8" y="161.7" font-size="6.0" textLength="49.0" lengthAdjust="spacingAndGlyphs">Experiment, Ref. 20</text>
<text class="tl" x="356.3" y="169.2" font-size="6.0" textLength="58.5" lengthAdjust="spacingAndGlyphs">Constrained fit, Eq. (1)</text>
<circle cx="430.7" cy="159.8" r="1.55" fill="none" stroke="#222" stroke-width="0.65"/>
<line class="sl" x1="420.0" y1="167.5" x2="441.0" y2="167.5"/>
</svg></body></html>
